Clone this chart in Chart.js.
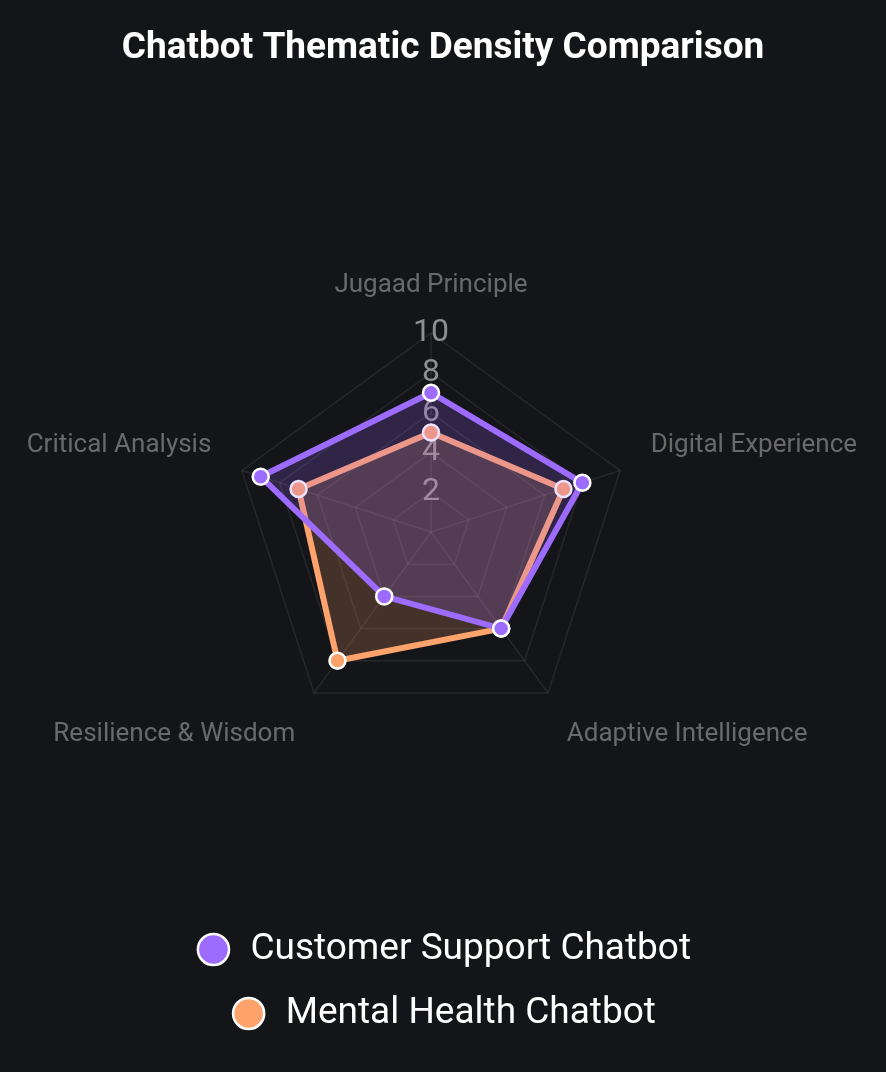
<!DOCTYPE html>
<html>
<head>
<meta charset="utf-8">
<script src="https://cdn.jsdelivr.net/npm/chart.js@4.4.1/dist/chart.umd.min.js"></script>
<style>
    html, body { margin: 0; padding: 0; background: #141519; }
    #wrap { width: 886px; height: 1072px; }
</style>
</head>
<body>
<div id="wrap"><canvas id="radarChart"></canvas></div>
<script>
// Chart data
const themes = ['Jugaad Principle', 'Digital Experience', 'Adaptive Intelligence', 'Resilience & Wisdom', 'Critical Analysis'];
const customerSupport = [7, 8, 6, 4, 9];
const mentalHealth = [5, 7, 6, 8, 7];
const tickValues = [0, 2, 4, 6, 8, 10];

const purple = '#9e6bff';
const orange = '#ffa36c';

const ctx = document.getElementById('radarChart').getContext('2d');
const radarChart = new Chart(ctx, {
    type: 'radar',
    data: {
        labels: themes,
        datasets: [
            {
                label: 'Customer Support Chatbot',
                data: customerSupport,
                borderColor: purple,
                backgroundColor: 'rgba(158, 107, 255, 0.2)',
                pointBackgroundColor: purple,
                pointBorderColor: '#ffffff',
                pointBorderWidth: 2.5,
                pointRadius: 8,
                borderWidth: 6,
                fill: true,
            },
            {
                label: 'Mental Health Chatbot',
                data: mentalHealth,
                borderColor: orange,
                backgroundColor: 'rgba(255, 163, 108, 0.2)',
                pointBackgroundColor: orange,
                pointBorderColor: '#ffffff',
                pointBorderWidth: 2.5,
                pointRadius: 8,
                borderWidth: 6,
                fill: true,
            },
        ],
    },
    options: {
        responsive: true,
        maintainAspectRatio: false,
        animation: false,
        layout: { padding: { left: 16, right: 16, top: 0, bottom: 30 } },
        scales: {
            r: {
                min: 0,
                max: 10,
                afterBuildTicks: (scale) => { scale.ticks = tickValues.map((v) => ({ value: v })); },
                ticks: {
                    color: '#8f8f8f',
                    backdropColor: 'transparent',
                    font: { family: 'Roboto', size: 32 },
                },
                grid: { color: 'rgba(255, 255, 255, 0.08)', lineWidth: 1.5 },
                angleLines: { color: 'rgba(255, 255, 255, 0.08)', lineWidth: 1.5 },
                pointLabels: {
                    color: '#6a6a6a',
                    font: { family: 'Roboto', size: 26 },
                    padding: 14,
                },
            },
        },
        plugins: {
            title: {
                display: true,
                text: 'Chatbot Thematic Density Comparison',
                color: '#ffffff',
                font: { family: 'Roboto', size: 37, weight: 'bold' },
                padding: { top: 27, bottom: 46 },
            },
            legend: {
                position: 'bottom',
                labels: {
                    color: '#ffffff',
                    font: { family: 'Roboto', size: 37 },
                    usePointStyle: true,
                    pointStyle: 'circle',
                    boxHeight: 22,
                    padding: 27,
                },
            },
        },
    },
});
</script>
</body>
</html>
